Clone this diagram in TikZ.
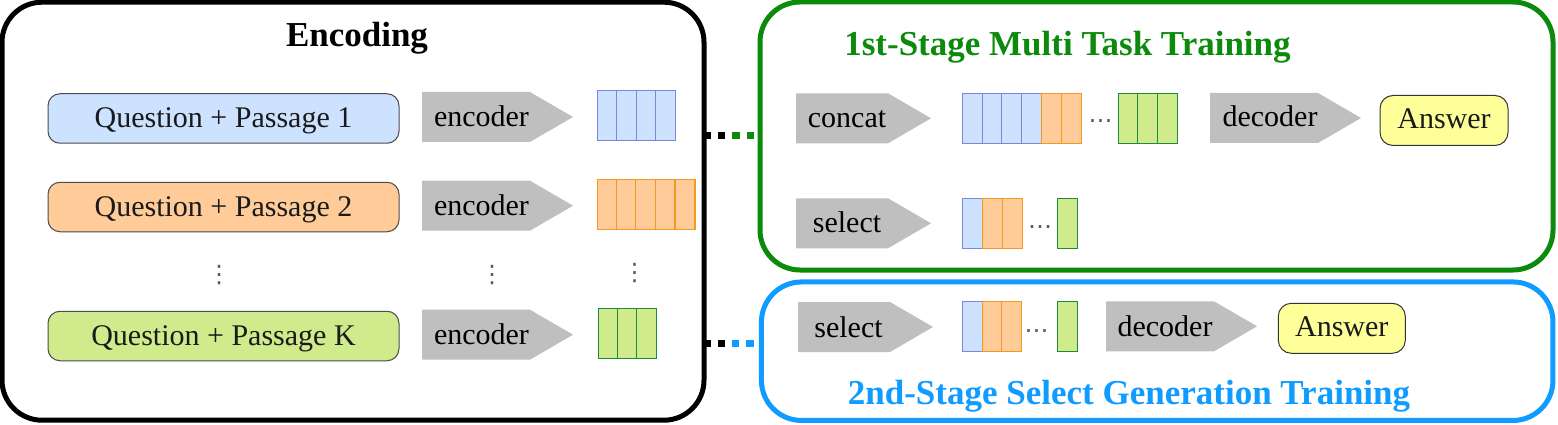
\documentclass[tikz,border=0pt]{standalone}
\usepackage{fontspec}
\setmainfont{Liberation Serif}
\newfontfamily\dotsfont{DejaVu Sans}
\usetikzlibrary{shapes.symbols}
\definecolor{gbox}{HTML}{0B8A0B}
\definecolor{bbox}{HTML}{0F9BFF}
\definecolor{bfill}{HTML}{CCE2FF}
\definecolor{ofill}{HTML}{FFCC99}
\definecolor{gfill}{HTML}{CFEB8C}
\definecolor{yfill}{HTML}{FFFF99}
\definecolor{bline}{HTML}{7D85E0}
\definecolor{oline}{HTML}{F09A22}
\definecolor{gline}{HTML}{1E8A3E}
\definecolor{arrowgray}{HTML}{BFBFBF}
\definecolor{txt}{HTML}{1A1A1A}
\newcommand{\lblfont}{\fontsize{30}{32}\selectfont}
\newcommand{\ttlfont}{\fontsize{35}{38}\selectfont\bfseries}
\tikzset{
  panel/.style={draw,line width=5pt,rounded corners=40pt,inner sep=0pt,outer sep=0pt,fill=none},
  input/.style={draw=black!70,fill=#1,line width=1pt,rounded corners=12pt,minimum width=351pt,minimum height=49.5pt,inner sep=0pt,
     font=\lblfont,text=txt,text height=20pt,text depth=1.6pt},
  answer/.style={draw=black!80,fill=yfill,line width=1pt,rounded corners=13pt,minimum height=50pt,inner sep=0pt,
     font=\lblfont,text=txt,text height=19pt,text depth=2pt},
  sig/.style={signal,signal to=east,fill=arrowgray,draw=none,inner sep=0pt,outer sep=0pt,minimum height=50pt,signal pointer angle=#1},
  lbl/.style={font=\lblfont,text=black,anchor=base,inner sep=0pt},
  ttl/.style={font=\ttlfont,anchor=base,inner sep=0pt},
  dotv/.style={font=\dotsfont\fontsize{24}{24}\selectfont,text=black!65,inner sep=0pt},
  bcell/.style={draw=bline,fill=bfill,line width=1.3pt},
  ocell/.style={draw=oline,fill=ofill,line width=1.3pt},
  gcell/.style={draw=gline,fill=gfill,line width=1.3pt},
  link/.style={line width=7pt}
}
\newcommand{\mycells}[4]{% style, y1, y2, list of x pairs
  \foreach \a/\b in {#4}{\draw[#1] (\a,#2) rectangle (\b,#3);}}
\begin{document}
\begin{tikzpicture}[x=1pt,y=-1pt]
\useasboundingbox (0,0) rectangle (1558,425);
\fill[white] (0,0) rectangle (1558,425);

% panels
\node[panel,draw=black,minimum width=702pt,minimum height=418pt] (enc) at (353,211.2) {};
\node[panel,draw=gbox,minimum width=793pt,minimum height=268pt] (first) at (1156.5,136) {};
\node[panel,draw=bbox,minimum width=791.5pt,minimum height=138.5pt] (second) at (1157.2,351.2) {};

% titles
\node[ttl,text=black] (t0) at (357,47) {Encoding};
\node[ttl,text=gbox] (t1) at (1067.5,56) {1st-Stage Multi Task Training};
\node[ttl,text=bbox] (t2) at (1129,404) {2nd-Stage Select Generation Training};

% inputs
\node[input=bfill] (q1) at (223.5,118.5) {Question + Passage 1};
\node[input=ofill] (q2) at (223.5,207) {Question + Passage 2};
\node[input=gfill] (qk) at (223.5,336) {Question + Passage K};

% arrows of the encoding panel
\node[sig=60.3,minimum width=151pt] (a1) at (476,117) {};
\node[sig=60.3,minimum width=151pt] (a2) at (476,205.7) {};
\node[sig=60.3,minimum width=151pt] (a3) at (476,334.7) {};
\node[lbl] (l1) at (481.5,127) {encoder};
\node[lbl] (l2) at (481.5,215.7) {encoder};
\node[lbl] (l3) at (481.5,344.3) {encoder};

% encoded strips
\mycells{bcell}{90.3}{140.7}{597.3/616.7,616.7/636.3,636.3/655.7,655.7/675.7}
\mycells{ocell}{179.3}{229.3}{597.3/616.7,616.7/635.7,635.7/655.7,655.7/675,675/695}
\mycells{gcell}{308.3}{358.3}{598.3/617.3,617.3/636.7,636.7/656.7}

\node[dotv] (v1) at (219,275) {⋮};
\node[dotv] (v2) at (492,275) {⋮};
\node[dotv] (v3) at (634.7,273.5) {⋮};

% first stage
\node[sig=60.3,minimum width=135pt] (a4) at (842,118.3) {};
\node[lbl] (l4) at (847,127.7) {concat};
\mycells{bcell}{93.3}{143.3}{962.3/982.3,982.3/1001.7,1001.7/1021.3,1021.3/1041.7}
\mycells{ocell}{93.3}{143.3}{1041.7/1061.3,1061.3/1081.7}
\mycells{gcell}{93.3}{143.3}{1118.3/1137.3,1137.3/1157.3,1157.3/1177.3}
\node[dotv] (h1) at (1100.7,123.7) {⋯};
\node[sig=60.3,minimum width=151pt] (a5) at (1264,118) {};
\node[lbl] (l5) at (1270,127) {decoder};
\node[answer,minimum width=128pt] (ans1) at (1444,120.5) {Answer};

\node[sig=60.3,minimum width=135pt] (a6) at (842,223.3) {};
\node[lbl] (l6) at (847,232.7) {select};
\mycells{bcell}{198.3}{248.3}{962.3/982.7}
\mycells{ocell}{198.3}{248.3}{982.7/1002.3,1002.3/1022.7}
\mycells{gcell}{198.3}{248.3}{1057.3/1077.3}
\node[dotv] (h2) at (1040,230) {⋯};

% second stage
\node[sig=60.3,minimum width=135pt] (a7) at (844,327) {};
\node[lbl] (l7) at (848.5,337) {select};
\mycells{bcell}{301.3}{351.3}{962.3/982.7}
\mycells{ocell}{301.3}{351.3}{982.7/1001.7,1001.7/1021.7}
\mycells{gcell}{301.3}{351.3}{1057.3/1077.7}
\node[dotv] (h3) at (1036.7,333.7) {⋯};
\node[sig=60.3,minimum width=151pt] (a8) at (1160,326.3) {};
\node[lbl] (l8) at (1165,336) {decoder};
\node[answer,minimum width=127pt] (ans2) at (1341.8,328.3) {Answer};

% dotted links
\coordinate (m1) at (728.5,135.7);
\coordinate (m2) at (728.5,343.3);
\draw[link,black,dash pattern=on 7pt off 7pt on 7pt off 20pt] (enc.east |- m1) -- (m1);
\draw[link,gbox,dash pattern=on 0pt off 3.5pt on 7.5pt off 7pt on 7.5pt off 20pt] (m1) -- (first.west |- m1);
\draw[link,black,dash pattern=on 7pt off 7pt on 7pt off 20pt] (enc.east |- m2) -- (m2);
\draw[link,bbox,dash pattern=on 0pt off 3pt on 7.5pt off 7pt on 7.5pt off 20pt] (m2) -- (second.west |- m2);
\end{tikzpicture}
\end{document}
